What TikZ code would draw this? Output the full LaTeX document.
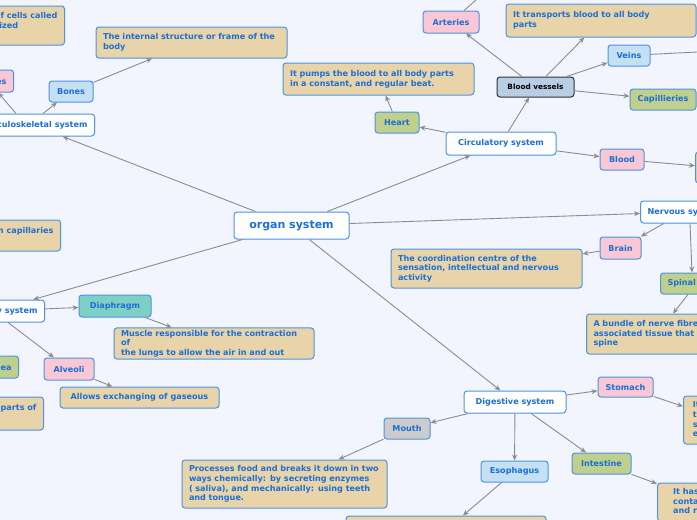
\documentclass[tikz,border=0pt]{standalone}
\usepackage{fontspec}
\setmainfont{DejaVu Sans}
\usetikzlibrary{arrows.meta}
\definecolor{bg}{HTML}{F2F5FE}
\definecolor{bd}{HTML}{4A93E6}
\definecolor{tx}{HTML}{1B6FD6}
\definecolor{tan}{HTML}{E8D4A8}
\definecolor{pk}{HTML}{F9C8D4}
\definecolor{lb}{HTML}{C5DFF3}
\definecolor{gr}{HTML}{BFD08C}
\definecolor{tl}{HTML}{7FD0C4}
\definecolor{gy}{HTML}{CCCCCC}
\definecolor{bv}{HTML}{B9CDE5}
\definecolor{ln}{HTML}{8C8C8C}
\hyphenpenalty=10000
\exhyphenpenalty=10000
\tikzset{
 box/.style={draw=bd,line width=1pt,rounded corners=3pt,font=\fontsize{8.1}{9.6}\selectfont\bfseries,text=tx,inner xsep=7pt,inner ysep=2pt,align=center},
 sys/.style={box,fill=white},
 desc/.style={box,fill=tan,align=left},
 con/.style={draw=ln,line width=0.9pt,-{Stealth[length=6pt,width=5pt]}},
 pl/.style={draw=ln,line width=0.9pt},
}
\begin{document}
\begin{tikzpicture}[x=1pt,y=-1pt]
\useasboundingbox (0,0) rectangle (697,520);
\fill[bg] (0,0) rectangle (697,520);
\clip (0,0) rectangle (697,520);
% central
\node[sys,minimum width=115,minimum height=27,font=\fontsize{11}{13}\selectfont\bfseries] (org) at (291.5,225.5) {organ system};
% musculoskeletal
\node[sys,minimum height=22,anchor=east] (mus) at (95,125) {Musculoskeletal system};
\node[box,fill=lb,minimum width=44,minimum height=21] (bon) at (71,91.5) {Bones};
\node[box,fill=pk,minimum height=22,anchor=east] (msc) at (14,81) {Muscles};
\node[desc,minimum height=39,anchor=east] (mdesc) at (65,25.5) {Made of cells called\\specialized\\ };
\node[desc,minimum width=191,minimum height=31,text width=177] (bdesc) at (191.5,42.5) {The internal structure or frame of the body};
% circulatory
\node[sys,minimum width=110,minimum height=23] (cir) at (501,143.5) {Circulatory system};
\node[box,fill=gr,minimum width=44,minimum height=21] (hea) at (397,122.5) {Heart};
\node[desc,minimum width=191,minimum height=32,text width=177] (hdesc) at (378.5,79) {It pumps the blood to all body parts\\in a constant, and regular beat.};
\node[box,fill=bv,draw=black!80,text=black,minimum width=77,minimum height=20,font=\fontsize{7.3}{8.6}\selectfont\bfseries] (bv) at (535.5,87) {Blood vessels};
\node[box,fill=pk,minimum width=56,minimum height=22] (art) at (451,22) {Arteries};
\node[desc,minimum width=190,minimum height=33,text width=176] (tdesc) at (601,20.5) {It transports blood to all body\\parts};
\node[box,fill=lb,minimum width=42,minimum height=21] (vei) at (629,55.5) {Veins};
\node[box,fill=gr,minimum width=66,minimum height=21] (cap) at (663,99.5) {Capillieries};
\node[box,fill=pk,minimum width=44,minimum height=21] (blo) at (622,159.5) {Blood};
\node[desc,minimum width=40,minimum height=31,anchor=west] (bldesc) at (695,167.5) {};
\coordinate (artup) at (476,0);
\coordinate (veinr) at (697,52);
% nervous
\node[sys,minimum height=22,anchor=west] (ner) at (640,212) {Nervous system};
\node[box,fill=pk,minimum width=41,minimum height=22] (bra) at (620.5,248) {Brain};
\node[desc,minimum width=191,minimum height=39,text width=177] (brdesc) at (486.5,268.5) {The coordination centre of the\\sensation, intellectual and nervous\\activity};
\node[box,fill=gr,minimum height=21,anchor=west] (spi) at (660,283.5) {Spinal cord};
\node[desc,minimum width=190,minimum height=40,text width=176,anchor=west] (spdesc) at (586,334) {A bundle of nerve fibres and\\associated tissue that is in the\\spine};
% respiratory
\node[sys,minimum height=22,anchor=east] (res) at (45,311) {Respiratory system};
\node[box,fill=tl,minimum width=72,minimum height=22] (dia) at (115,306) {Diaphragm};
\node[desc,minimum width=200,minimum height=29,text width=186] (ddesc) at (214,343.5) {Muscle responsible for the contraction of\\the lungs to allow the air in and out};
\node[box,fill=gr,minimum height=22,anchor=east] (tra) at (19,367) {Trachea};
\node[box,fill=pk,minimum width=50,minimum height=22] (alv) at (69,369) {Alveoli};
\node[desc,minimum width=159,minimum height=21] (adesc) at (139.5,397.5) {Allows exchanging of gaseous};
\node[desc,minimum height=33,anchor=east] (ldesc) at (44,413.5) {Carries air to parts of\\the body};
\node[desc,minimum height=31,anchor=east] (cdesc) at (61,235.5) {Exchange in capillaries\\ };
% digestive
\node[sys,minimum width=102,minimum height=22] (dig) at (515,402) {Digestive system};
\node[box,fill=pk,minimum width=55,minimum height=20] (sto) at (625.5,387) {Stomach};
\node[desc,minimum width=80,minimum height=48,anchor=west] (sdesc) at (683,420) {It breaks\\the food with\\strong acids\\enzymes};
\node[box,fill=gr,minimum width=59,minimum height=21] (int) at (601.5,463.5) {Intestine};
\node[desc,minimum width=100,minimum height=38,anchor=west] (idesc) at (657,502) {It has enzymes\\containing\\and releasing};
\node[box,fill=lb,minimum width=67,minimum height=21] (eso) at (514.5,471.5) {Esophagus};
\node[desc,minimum width=200,minimum height=28] (edesc) at (446,530) {};
\node[box,fill=gy,minimum width=46,minimum height=21] (mou) at (407,428.5) {Mouth};
\node[desc,minimum width=205,minimum height=48,text width=191] (mdesc2) at (284.5,484) {Processes food and breaks it down in two ways chemically: by secreting enzymes ( saliva), and mechanically: using teeth and tongue.};
% connectors
\draw[con] (org) -- (mus);
\draw[con] (org) -- (cir);
\draw[con] (org) -- (ner);
\draw[con] (org) -- (res);
\draw[con] (org) -- (dig);
\draw[con] ([xshift=-52pt]mus.north east) -- (bon);
\draw[con] ([xshift=-79pt]mus.north east) -- (msc);
\draw[con] (bon) -- (bdesc);
\draw[con] (cir) -- (hea);
\draw[con] (hea) -- (hdesc);
\draw[con] (cir) -- (bv);
\draw[con] (cir) -- (blo);
\draw[con] (blo) -- (bldesc);
\draw[con] (bv) -- (art);
\draw[pl] (art) -- (artup);
\draw[con] (bv) -- (tdesc);
\draw[con] (bv) -- (vei);
\draw[pl] (vei) -- (veinr);
\draw[con] (bv) -- (cap);
\draw[con] (ner) -- (bra);
\draw[con] (bra) -- (brdesc);
\draw[con] ([xshift=50pt]ner.south west) -- ([xshift=32pt]spi.north west);
\draw[con] ([xshift=28pt]spi.south west) -- ([xshift=87pt]spdesc.north west);
\draw[con] (res) -- (dia);
\draw[con] (dia) -- (ddesc);
\draw[con] (res) -- (alv);
\draw[con] (alv) -- (adesc);
\draw[con] (dig) -- (sto);
\draw[con] (sto) -- (sdesc);
\draw[con] (dig) -- (int);
\draw[con] (int) -- (idesc);
\draw[con] (dig) -- (eso);
\draw[con] (eso) -- (edesc);
\draw[con] (dig) -- (mou);
\draw[con] (mou) -- (mdesc2);
\end{tikzpicture}
\end{document}
